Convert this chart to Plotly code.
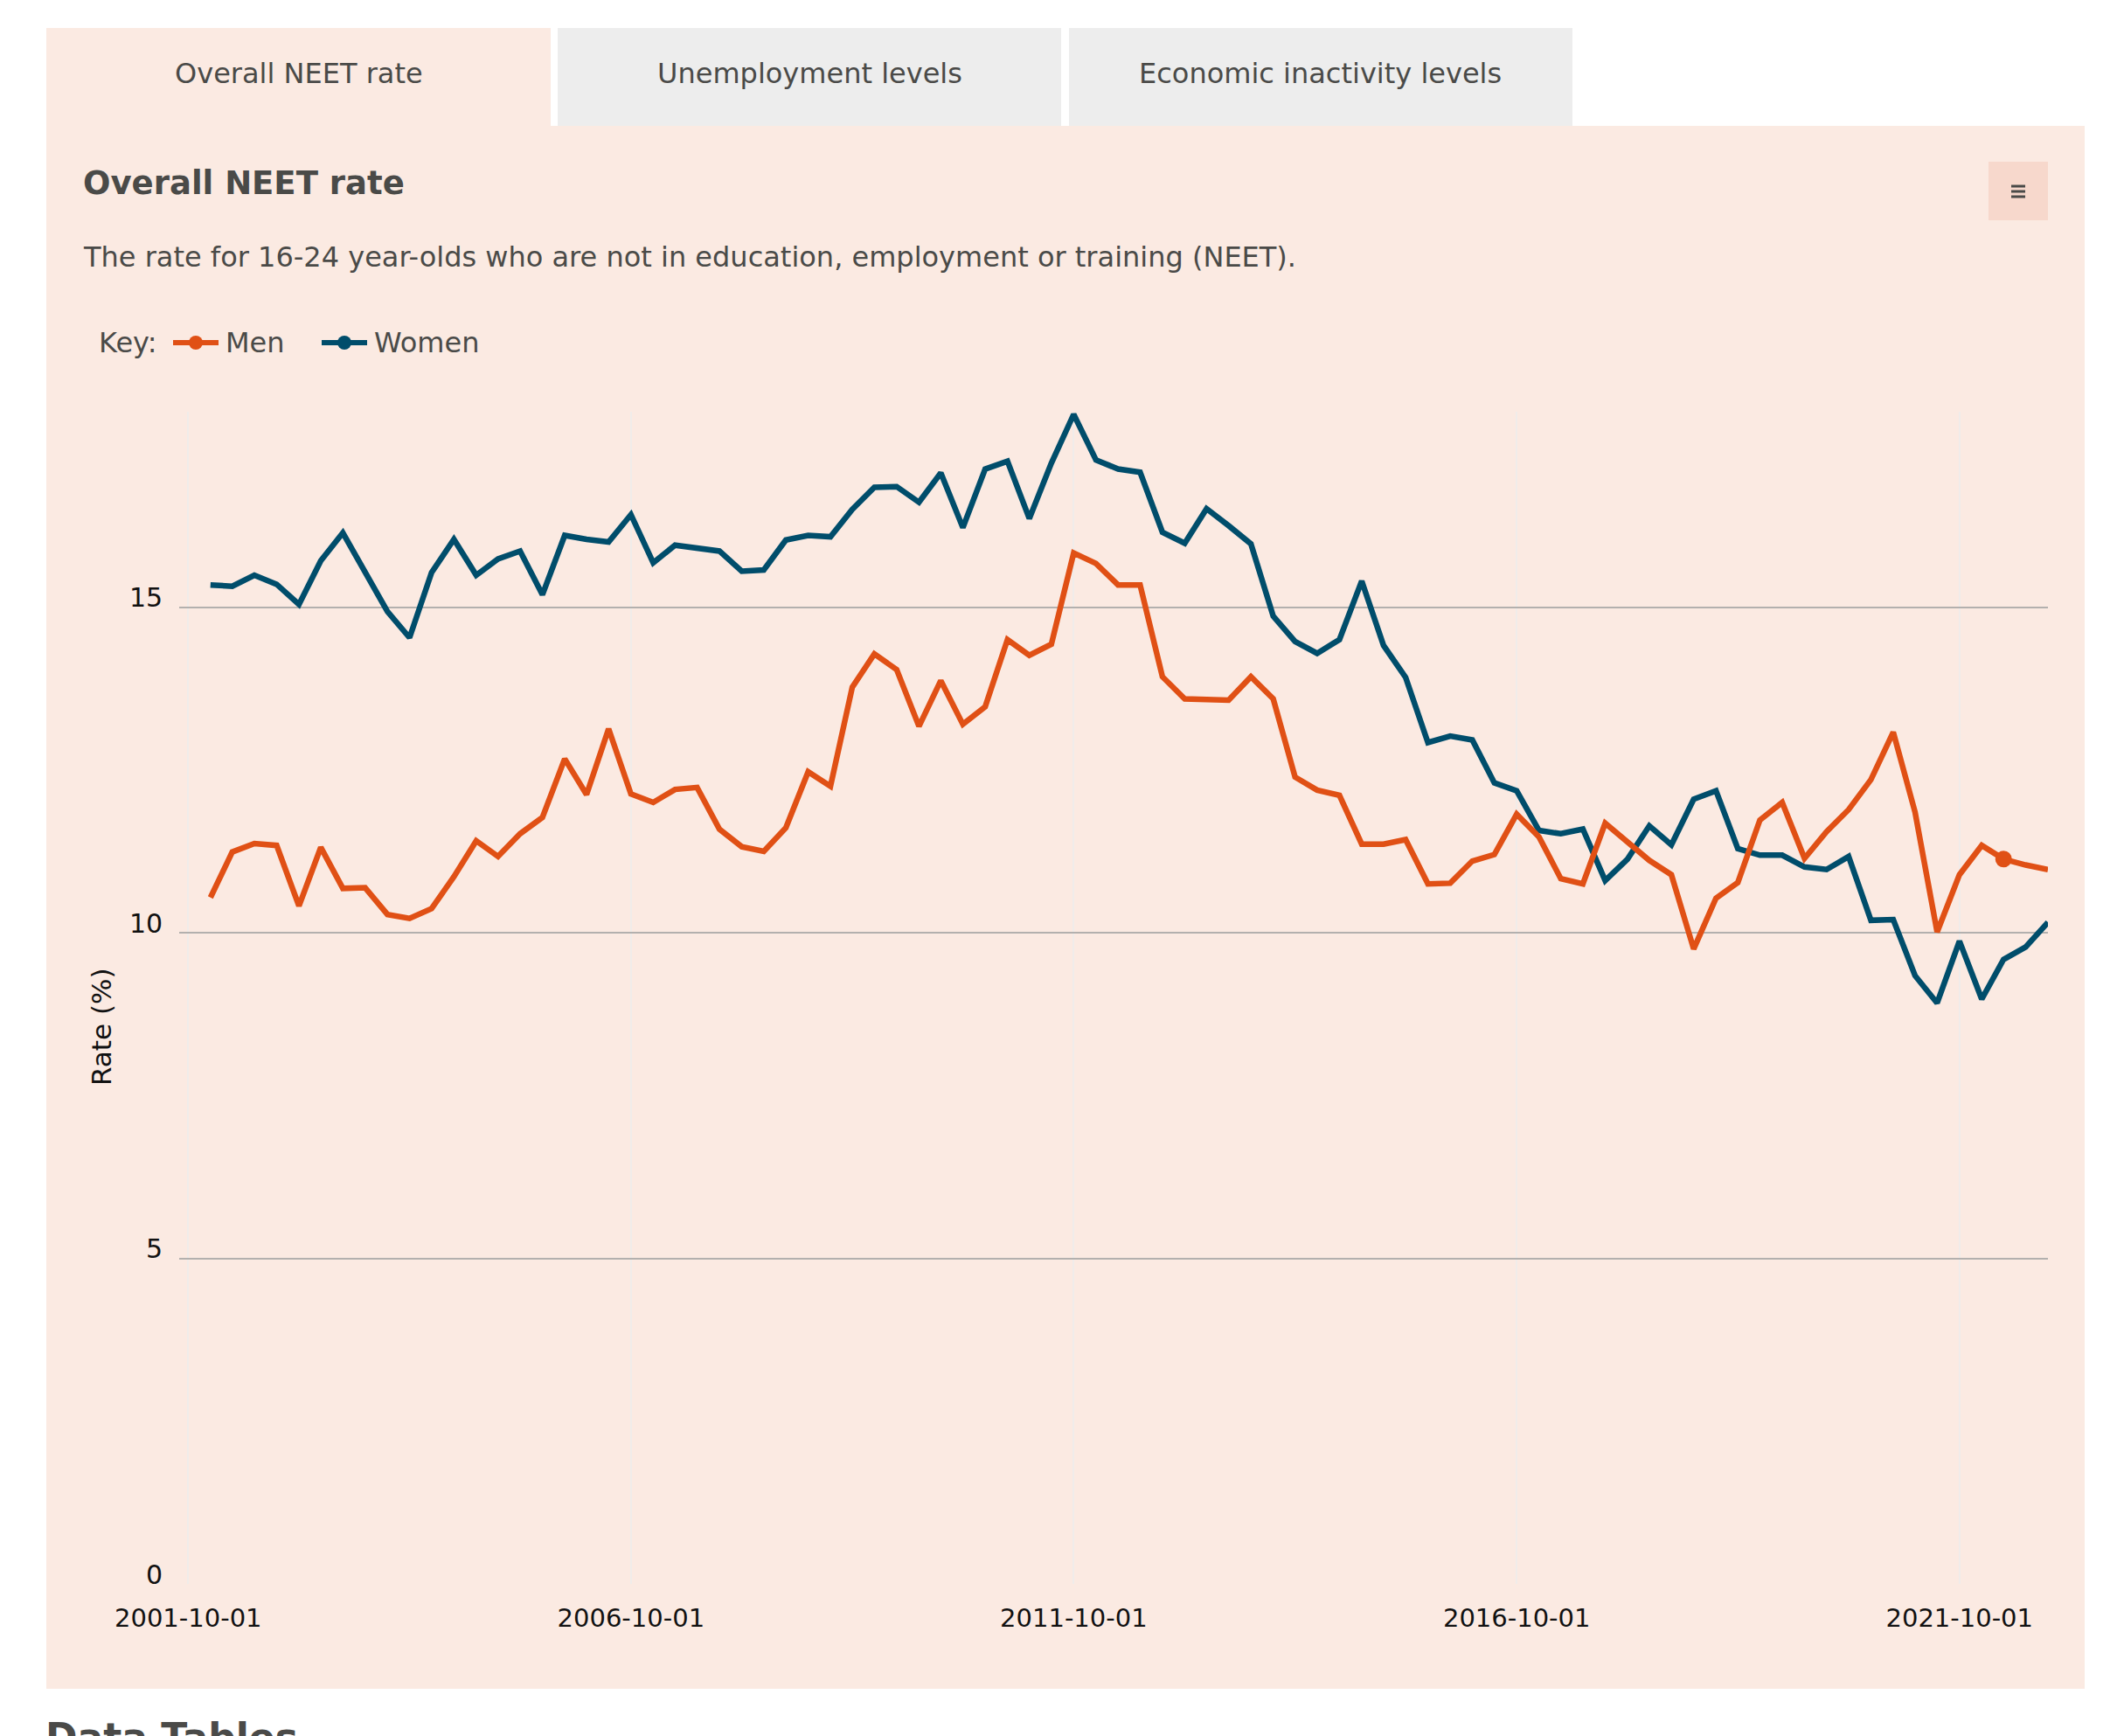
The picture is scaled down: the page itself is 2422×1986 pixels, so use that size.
import pandas as pd
import plotly.graph_objects as go

# ---------------- data ----------------
quarters = [d.strftime("%Y-%m-%d") for d in pd.date_range("2002-01-01", periods=84, freq="QS")]

men = [10.54, 11.24, 11.37, 11.34, 10.41, 11.31, 10.68, 10.69, 10.28, 10.22,
       10.37, 10.86, 11.41, 11.17, 11.52, 11.77, 12.67, 12.12, 13.13, 12.13,
       12.00, 12.20, 12.23, 11.59, 11.32, 11.25, 11.61, 12.47, 12.25, 13.77,
       14.28, 14.04, 13.17, 13.87, 13.20, 13.47, 14.50, 14.26, 14.43, 15.83,
       15.67, 15.34, 15.34, 13.93, 13.59, 13.57, 13.57, 13.93, 13.59, 12.39,
       12.19, 12.11, 11.36, 11.36, 11.43, 10.75, 10.76, 11.10, 11.20, 11.82,
       11.47, 10.83, 10.75, 11.68, 11.39, 11.11, 10.89, 9.75, 10.53, 10.77,
       11.73, 12.00, 11.14, 11.55, 11.89, 12.35, 13.08, 11.85, 10.01, 10.89,
       11.34, 11.13, 11.04, 10.97]

women = [15.34, 15.32, 15.49, 15.35, 15.04, 15.71, 16.14, 15.54, 14.93, 14.53,
         15.53, 16.04, 15.49, 15.74, 15.86, 15.19, 16.10, 16.04, 16.00, 16.42,
         15.68, 15.95, 15.90, 15.86, 15.55, 15.57, 16.03, 16.10, 16.08, 16.50,
         16.84, 16.85, 16.61, 17.06, 16.22, 17.12, 17.24, 16.36, 17.21, 17.96,
         17.26, 17.12, 17.07, 16.15, 15.98, 16.51, 16.25, 15.97, 14.86, 14.47,
         14.29, 14.50, 15.40, 14.41, 13.92, 12.92, 13.02, 12.96, 12.30, 12.18,
         11.57, 11.52, 11.59, 10.80, 11.13, 11.64, 11.35, 12.05, 12.18, 11.29,
         11.19, 11.19, 11.01, 10.97, 11.17, 10.19, 10.20, 9.34, 8.92, 9.87,
         8.98, 9.59, 9.78, 10.16]

x_tick_labels = ["2001-10-01", "2006-10-01", "2011-10-01", "2016-10-01", "2021-10-01"]
y_tick_values = [0, 5, 10, 15]
highlight_index = 81  # hovered point on the Men series

series_names = ["Men", "Women"]
tab_labels = ["Overall NEET rate", "Unemployment levels", "Economic inactivity levels"]

# ---------------- style / geometry ----------------
W, H = 2422, 1986
L, R, T, B = 205, 2343, 471, 1812
MEN_C = "#E05015"
WOMEN_C = "#004D6B"
PANEL = "#FBEAE2"
TAB_OFF = "#EDEDED"
TXT = "#4A4A48"
FONT = "DejaVu Sans"


def fx(px):
    return (px - L) / (R - L)


def fy(py):
    return (B - py) / (B - T)


fig = go.Figure()

fig.add_trace(go.Scatter(x=quarters, y=women, mode="lines", name=series_names[1],
                         line=dict(color=WOMEN_C, width=6.5), showlegend=False))
fig.add_trace(go.Scatter(x=quarters, y=men, mode="lines", name=series_names[0],
                         line=dict(color=MEN_C, width=6.5), showlegend=False))
fig.add_trace(go.Scatter(x=[quarters[highlight_index]], y=[men[highlight_index]], mode="markers",
                         marker=dict(color=MEN_C, size=19), showlegend=False, hoverinfo="skip"))

shapes = []
annotations = []

# panel and tabs
shapes.append(dict(type="rect", xref="paper", yref="paper", layer="below",
                   x0=fx(53), x1=fx(2385), y0=fy(1932), y1=fy(144),
                   fillcolor=PANEL, line=dict(width=0)))
tab_bounds = [(53, 630), (638, 1214), (1223, 1799)]
for i, (a, b) in enumerate(tab_bounds):
    shapes.append(dict(type="rect", xref="paper", yref="paper", layer="below",
                       x0=fx(a), x1=fx(b), y0=fy(144), y1=fy(32),
                       fillcolor=PANEL if i == 0 else TAB_OFF, line=dict(width=0)))
    annotations.append(dict(xref="paper", yref="paper", x=fx((a + b) / 2), y=fy(84),
                            text=tab_labels[i], showarrow=False, xanchor="center", yanchor="middle",
                            font=dict(family=FONT, size=32, color=TXT)))

# title & subtitle
annotations.append(dict(xref="paper", yref="paper", x=fx(93), y=fy(209), text="<b>Overall NEET rate</b>",
                        showarrow=False, xanchor="left", yanchor="middle",
                        font=dict(family=FONT, size=37, color=TXT)))
annotations.append(dict(xref="paper", yref="paper", x=fx(93), y=fy(294),
                        text="The rate for 16-24 year-olds who are not in education, employment or training (NEET).",
                        showarrow=False, xanchor="left", yanchor="middle",
                        font=dict(family=FONT, size=32, color=TXT)))

# menu button
shapes.append(dict(type="rect", xref="paper", yref="paper", layer="below",
                   x0=fx(2275), x1=fx(2343), y0=fy(252), y1=fy(185),
                   fillcolor="#F7D8CC", line=dict(width=0)))
for yy in (213, 219, 225):
    shapes.append(dict(type="line", xref="paper", yref="paper",
                       x0=fx(2301), x1=fx(2317), y0=fy(yy), y1=fy(yy),
                       line=dict(color=TXT, width=3)))

# key
KEY_Y = 392
annotations.append(dict(xref="paper", yref="paper", x=fx(111), y=fy(KEY_Y), text="Key:",
                        showarrow=False, xanchor="left", yanchor="middle",
                        font=dict(family=FONT, size=32, color=TXT)))
key_items = [(series_names[0], MEN_C, 198), (series_names[1], WOMEN_C, 368)]
for name, col, x0 in key_items:
    shapes.append(dict(type="line", xref="paper", yref="paper",
                       x0=fx(x0), x1=fx(x0 + 52), y0=fy(KEY_Y), y1=fy(KEY_Y),
                       line=dict(color=col, width=6)))
    shapes.append(dict(type="circle", xref="paper", yref="paper",
                       x0=fx(x0 + 26 - 8), x1=fx(x0 + 26 + 8), y0=fy(KEY_Y + 8), y1=fy(KEY_Y - 8),
                       fillcolor=col, line=dict(width=0)))
    annotations.append(dict(xref="paper", yref="paper", x=fx(x0 + 58), y=fy(KEY_Y), text=name,
                            showarrow=False, xanchor="left", yanchor="middle",
                            font=dict(family=FONT, size=32, color=TXT)))

# y tick labels (sit just above their gridlines)
for v in y_tick_values:
    annotations.append(dict(xref="paper", yref="y", x=fx(188), y=v, text=str(v),
                            showarrow=False, xanchor="right", yanchor="middle", yshift=11,
                            font=dict(family=FONT, size=30, color="#111111")))

# y-axis title
annotations.append(dict(xref="paper", yref="paper", x=fx(116), y=fy(1175), text="Rate (%)",
                        showarrow=False, textangle=-90, xanchor="center", yanchor="middle",
                        font=dict(family=FONT, size=31, color="#111111")))

# "Data Tables" heading below the panel (cut off by the page bottom)
annotations.append(dict(xref="paper", yref="paper", x=fx(50), y=fy(1960), text="<b>Data Tables</b>",
                        showarrow=False, xanchor="left", yanchor="top",
                        font=dict(family=FONT, size=44, color=TXT)))

fig.update_layout(
    width=W, height=H,
    margin=dict(l=L, r=W - R, t=T, b=H - B, pad=0),
    paper_bgcolor="white",
    plot_bgcolor="rgba(0,0,0,0)",
    showlegend=False,
    shapes=shapes,
    annotations=annotations,
    font=dict(family=FONT, color="#111111"),
    xaxis=dict(
        type="date",
        range=["2001-08-25", quarters[-1]],
        tickvals=x_tick_labels,
        ticktext=x_tick_labels,
        showgrid=True, gridcolor="rgba(238,236,235,0.9)", gridwidth=2,
        zeroline=False, showline=False, ticks="",
        tickfont=dict(family=FONT, size=29, color="#111111"),
        ticklabelstandoff=19,
    ),
    yaxis=dict(
        range=[0, 18],
        tickvals=y_tick_values,
        showticklabels=False,
        showgrid=True, gridcolor="#B3B0AE", gridwidth=2,
        zeroline=False, showline=False, ticks="",
    ),
)

fig.write_html("out.html", config={"displayModeBar": False},
               post_script="document.body.style.margin='0';document.body.style.overflow='hidden';")
